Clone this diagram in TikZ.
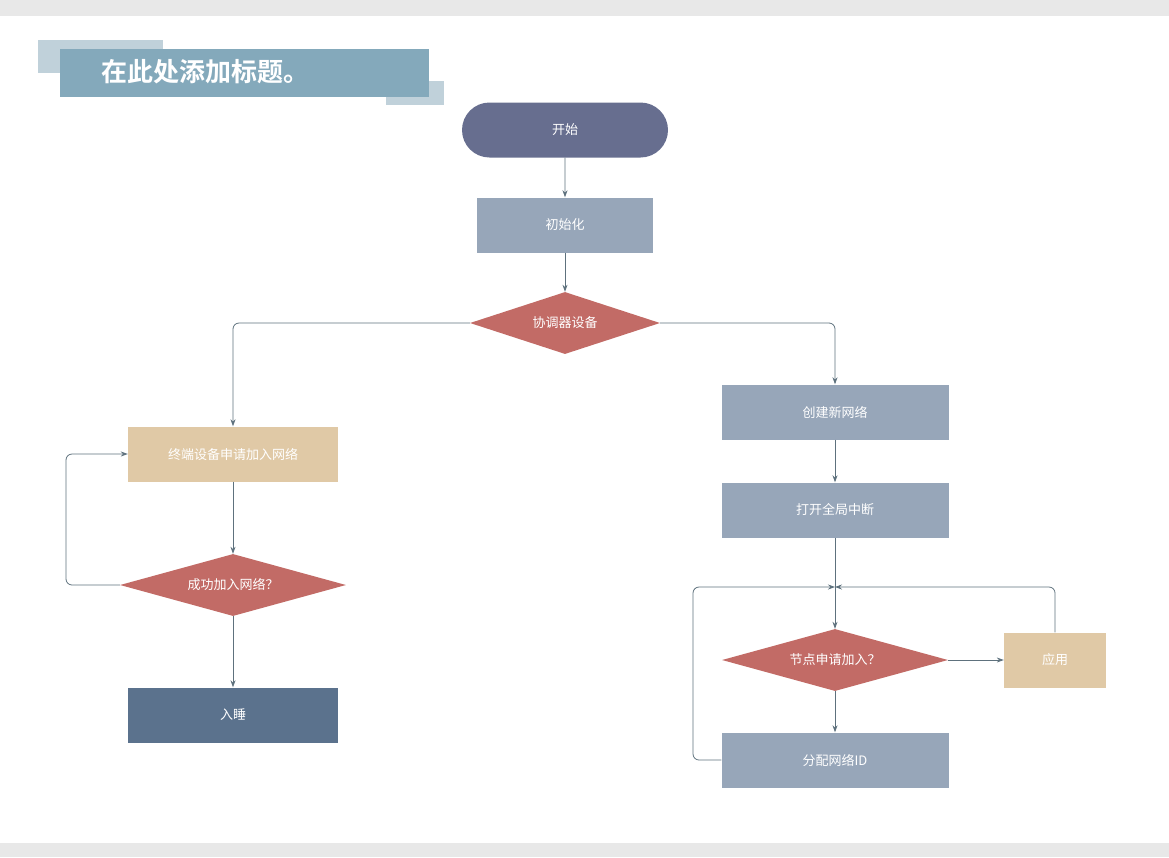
\documentclass[tikz,border=0pt]{standalone}
\usepackage{fontspec}
\newfontfamily\cjk{Noto Sans CJK SC}
\newfontfamily\cjkb{Noto Sans CJK SC Bold}
\usetikzlibrary{shapes.geometric,shapes.misc,arrows.meta}
\definecolor{ln}{HTML}{5E717D}
\definecolor{cstart}{HTML}{676E8F}
\definecolor{cblue}{HTML}{97A6B9}
\definecolor{cred}{HTML}{C26B66}
\definecolor{ctan}{HTML}{E0C9A6}
\definecolor{cdark}{HTML}{5B728D}
\definecolor{ctitle}{HTML}{84A9BB}
\definecolor{clight}{HTML}{C0D1DA}
\begin{document}
\begin{tikzpicture}[x=1pt,y=-1pt,
  base/.style={draw=none,text=white,font=\cjk\fontsize{13}{15}\selectfont,inner sep=0pt},
  box/.style={base,rectangle,minimum width=#1,minimum height=55},
  dia/.style={base,diamond,aspect=#1,fill=cred,minimum height=62},
  ar/.style={draw=ln,line width=0.8pt,-{Stealth[length=7pt,width=5pt]},rounded corners=6pt}]
\useasboundingbox (0,0) rectangle (1169,857);
\fill[gray!18] (0,0) rectangle (1169,16);
\fill[gray!18] (0,843) rectangle (1169,857);
\fill[clight] (38,40) rectangle (163,73);
\fill[clight] (386,81) rectangle (444,105);
\fill[ctitle] (60,49) rectangle (429,97);
\node[anchor=west,text=white,font=\cjkb\fontsize{26}{30}\selectfont] (title) at (98,72) {在此处添加标题。};
\node[base,rounded rectangle,fill=cstart,minimum width=206,minimum height=55] (start) at (565,130) {开始};
\node[box=176,fill=cblue] (init) at (565,225) {初始化};
\node[dia=3.06,minimum width=190] (d1) at (565,323) {协调器设备};
\node[box=210,fill=ctan] (ed) at (233,454) {终端设备申请加入网络};
\node[dia=3.65,minimum width=226] (d2) at (233,585) {成功加入网络？};
\node[box=210,fill=cdark] (sleep) at (233,715) {入睡};
\node[box=227,fill=cblue] (create) at (835,412) {创建新网络};
\node[box=227,fill=cblue] (open) at (835,510) {打开全局中断};
\node[dia=3.65,minimum width=226] (d3) at (835,660) {节点申请加入？};
\node[box=102,fill=ctan] (apply) at (1055,660) {应用};
\node[box=227,fill=cblue] (assign) at (835,760) {分配网络ID};
\coordinate (j) at (835,587);
\draw[ar] (start) -- (init);
\draw[ar] (init) -- (d1);
\draw[ar] (d1.west) -| (ed.north);
\draw[ar] (d1.east) -| (create.north);
\draw[ar] (create) -- (open);
\draw[ar] (open) -- (d3);
\draw[ar] (ed) -- (d2);
\draw[ar] (d2) -- (sleep);
\draw[ar] (d2.west) -- (66,585) -- (66,454) -- (ed.west);
\draw[ar] (d3) -- (apply);
\draw[ar] (d3) -- (assign);
\draw[ar] (assign.west) -- (693,760) -- (693,587) -- (j);
\draw[ar] (apply.north) -- (1055,587) -- (j);
\end{tikzpicture}
\end{document}
